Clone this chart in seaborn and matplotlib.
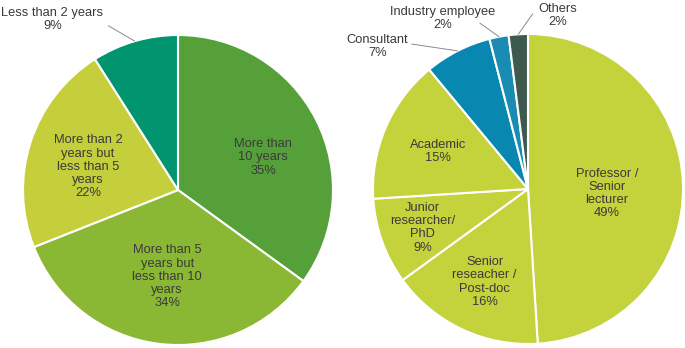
import numpy as np
import seaborn as sns
from matplotlib import pyplot as plt

# data
exp_labels = ['More than\n10 years', 'More than 5\nyears but\nless than 10\nyears',
              'More than 2\nyears but\nless than 5\nyears', 'Less than 2 years']
exp_pct = [35, 34, 22, 9]
exp_colors = ['#56a03a', '#8bb834', '#c4cf3b', '#00946f']

pos_labels = ['Professor /\nSenior\nlecturer', 'Senior\nreseacher /\nPost-doc',
              'Junior\nresearcher/\nPhD', 'Academic', 'Consultant',
              'Industry employee', 'Others']
pos_pct = [49, 16, 9, 15, 7, 2, 2]
pos_colors = ['#c4d23b', '#c4d23b', '#c4d23b', '#c4d23b', '#0888b0', '#1a8cb2', '#3e5a4f']

# label placement (data units, pie radius = 1); None = inside, tuple = leader start
exp_text_pos = [(0.55, 0.21), (-0.07, -0.56), (-0.58, 0.15), (-0.81, 1.10)]
exp_leader = [None, None, None, (-0.45, 1.06)]
pos_text_pos = [(0.51, -0.03), (-0.28, -0.60), (-0.68, -0.25), (-0.58, 0.24),
                (-0.97, 0.92), (-0.55, 1.10), (0.19, 1.12)]
pos_leader = [None, None, None, None, (-0.75, 0.935), (-0.31, 1.07), (0.03, 1.13)]

sns.set_theme(style='white')
plt.rcParams['font.family'] = ['Liberation Sans', 'DejaVu Sans']

fig = plt.figure(figsize=(6.85, 3.48), dpi=100)
W, H = 685, 348
R = 155
half = 165


def draw_pie(cx, cy, values, labels, colors, text_pos, leaders):
    ax = fig.add_axes([(cx - half) / W, (H - cy - half) / H, 2 * half / W, 2 * half / H])
    wedges, _ = ax.pie(values, colors=colors, startangle=90, counterclock=False,
                       wedgeprops=dict(edgecolor='white', linewidth=1.5))
    lim = half / R
    ax.set_xlim(-lim, lim)
    ax.set_ylim(-lim, lim)
    ax.set_aspect('equal')
    ax.axis('off')
    for w, lab, val, tp, ld in zip(wedges, labels, values, text_pos, leaders):
        ax.text(tp[0], tp[1], '{}\n{}%'.format(lab, val), ha='center', va='center',
                multialignment='center', fontsize=9.3, color='#3a3a3a', linespacing=1.13)
        if ld is not None:
            mid = np.deg2rad((w.theta1 + w.theta2) / 2)
            ax.annotate('', xy=(np.cos(mid), np.sin(mid)), xytext=ld,
                        arrowprops=dict(arrowstyle='-', color='#8a8a8a', lw=0.7,
                                        shrinkA=0, shrinkB=0))
    return ax


draw_pie(178, 190, exp_pct, exp_labels, exp_colors, exp_text_pos, exp_leader)
draw_pie(528, 189, pos_pct, pos_labels, pos_colors, pos_text_pos, pos_leader)

fig.savefig('out.png', dpi=100)
